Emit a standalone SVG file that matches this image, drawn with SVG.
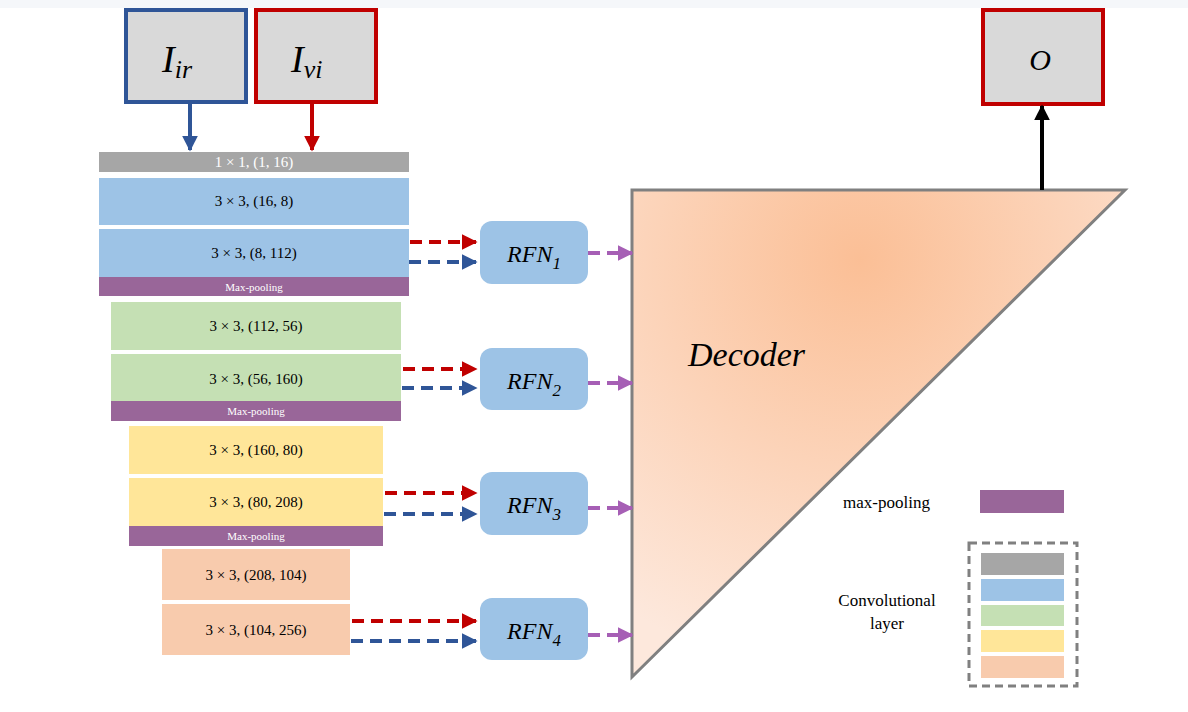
<svg xmlns="http://www.w3.org/2000/svg" width="1188" height="712" viewBox="0 0 1188 712">
<defs>
<style>
text{font-family:"Liberation Serif",serif;fill:#000}
.lt{font-size:15px;text-anchor:middle}
.mp{font-size:11px;text-anchor:middle;fill:#fff}
.m{font-style:italic}
.in{fill:#d9d9d9;stroke-width:4}
.rfn{fill:#9dc3e6}
.dr{stroke:#c00000;stroke-width:4;stroke-dasharray:12 7;fill:none}
.db{stroke:#2f5597;stroke-width:4;stroke-dasharray:12 7;fill:none}
.dp{stroke:#a65fb5;stroke-width:4;stroke-dasharray:12 7;fill:none}
</style>
<marker id="ar" viewBox="0 0 10 10" refX="9" refY="5" markerWidth="4" markerHeight="4" orient="auto"><path d="M0,0L10,5L0,10z" fill="#c00000"/></marker>
<marker id="ab" viewBox="0 0 10 10" refX="9" refY="5" markerWidth="4" markerHeight="4" orient="auto"><path d="M0,0L10,5L0,10z" fill="#2f5597"/></marker>
<marker id="ap" viewBox="0 0 10 10" refX="9" refY="5" markerWidth="4" markerHeight="4" orient="auto"><path d="M0,0L10,5L0,10z" fill="#a65fb5"/></marker>
<marker id="ak" viewBox="0 0 10 10" refX="9" refY="5" markerWidth="4" markerHeight="4" orient="auto"><path d="M0,0L10,5L0,10z" fill="#000"/></marker>
<radialGradient id="g" cx="860" cy="260" r="420" gradientUnits="userSpaceOnUse"><stop offset="0" stop-color="#fbbf96"/><stop offset="1" stop-color="#fde8dc"/></radialGradient>
</defs>
<rect width="1188" height="712" fill="#fff"/>
<rect width="1188" height="8" fill="#f5f7fa"/>
<g id="in_ir"><rect class="in" x="126" y="10" width="120" height="92" stroke="#2f5597"/><text x="162" y="72" font-size="38" class="m">I<tspan font-size="26" dy="6">ir</tspan></text></g>
<g id="in_vi"><rect class="in" x="256" y="10" width="120" height="92" stroke="#c00000"/><text x="291" y="72" font-size="38" class="m">I<tspan font-size="26" dy="6">vi</tspan></text></g>
<g id="out"><rect class="in" x="983" y="10" width="120" height="94" stroke="#c00000"/><text x="1040" y="70" font-size="30" class="m" text-anchor="middle">O</text></g>
<g id="encoder">
<rect x="99" y="152" width="310" height="20" fill="#a6a6a6"/><text class="lt" x="254" y="167" style="fill:#fff">1 × 1, (1, 16)</text>
<rect x="99" y="178" width="310" height="47" fill="#9dc3e6"/><text class="lt" x="254" y="206">3 × 3, (16, 8)</text>
<rect x="99" y="229" width="310" height="48" fill="#9dc3e6"/><text class="lt" x="254" y="258">3 × 3, (8, 112)</text>
<rect x="99" y="277" width="310" height="19" fill="#996699"/><text class="mp" x="254" y="291">Max-pooling</text>
<rect x="111" y="302" width="290" height="48" fill="#c5e0b4"/><text class="lt" x="256" y="331">3 × 3, (112, 56)</text>
<rect x="111" y="354" width="290" height="47" fill="#c5e0b4"/><text class="lt" x="256" y="384">3 × 3, (56, 160)</text>
<rect x="111" y="401" width="290" height="20" fill="#996699"/><text class="mp" x="256" y="415">Max-pooling</text>
<rect x="129" y="426" width="254" height="48" fill="#ffe699"/><text class="lt" x="256" y="455">3 × 3, (160, 80)</text>
<rect x="129" y="478" width="254" height="48" fill="#ffe699"/><text class="lt" x="256" y="507">3 × 3, (80, 208)</text>
<rect x="129" y="526" width="254" height="20" fill="#996699"/><text class="mp" x="256" y="540">Max-pooling</text>
<rect x="162" y="549" width="188" height="51" fill="#f8cbad"/><text class="lt" x="256" y="580">3 × 3, (208, 104)</text>
<rect x="162" y="604" width="188" height="51" fill="#f8cbad"/><text class="lt" x="256" y="635">3 × 3, (104, 256)</text>
</g>
<g id="rfn1"><rect class="rfn" x="480" y="221" width="108" height="63" rx="12"/><text x="534" y="262" font-size="24" class="m" text-anchor="middle">RFN<tspan font-size="17" dy="7">1</tspan></text></g>
<g id="rfn2"><rect class="rfn" x="480" y="348" width="108" height="62" rx="12"/><text x="534" y="389" font-size="24" class="m" text-anchor="middle">RFN<tspan font-size="17" dy="7">2</tspan></text></g>
<g id="rfn3"><rect class="rfn" x="480" y="472" width="108" height="63" rx="12"/><text x="534" y="513" font-size="24" class="m" text-anchor="middle">RFN<tspan font-size="17" dy="7">3</tspan></text></g>
<g id="rfn4"><rect class="rfn" x="480" y="598" width="108" height="62" rx="12"/><text x="534" y="639" font-size="24" class="m" text-anchor="middle">RFN<tspan font-size="17" dy="7">4</tspan></text></g>
<g id="decoder"><polygon points="632,190 1125,190 632,677" fill="url(#g)" stroke="#808080" stroke-width="3"/><text x="688" y="366" font-size="34" class="m">Decoder</text></g>
<g id="connectors">
<line x1="190" y1="102" x2="190" y2="150" stroke="#2f5597" stroke-width="4" marker-end="url(#ab)"/>
<line x1="312" y1="102" x2="312" y2="150" stroke="#c00000" stroke-width="4" marker-end="url(#ar)"/>
<line class="dr" x1="410" y1="242" x2="476" y2="242" marker-end="url(#ar)"/>
<line class="db" x1="409" y1="262" x2="476" y2="262" marker-end="url(#ab)"/>
<line class="dr" x1="403" y1="369" x2="476" y2="369" marker-end="url(#ar)"/>
<line class="db" x1="402" y1="388" x2="476" y2="388" marker-end="url(#ab)"/>
<line class="dr" x1="385" y1="493" x2="476" y2="493" marker-end="url(#ar)"/>
<line class="db" x1="384" y1="514" x2="476" y2="514" marker-end="url(#ab)"/>
<line class="dr" x1="352" y1="621" x2="476" y2="621" marker-end="url(#ar)"/>
<line class="db" x1="351" y1="641" x2="476" y2="641" marker-end="url(#ab)"/>
<line class="dp" x1="588" y1="253" x2="632" y2="253" marker-end="url(#ap)"/>
<line class="dp" x1="588" y1="383" x2="632" y2="383" marker-end="url(#ap)"/>
<line class="dp" x1="588" y1="508" x2="632" y2="508" marker-end="url(#ap)"/>
<line class="dp" x1="588" y1="635" x2="632" y2="635" marker-end="url(#ap)"/>
<line x1="1042" y1="190" x2="1042" y2="106" stroke="#000" stroke-width="4" marker-end="url(#ak)"/>
</g>
<g id="legend">
<text x="843" y="508" font-size="17">max-pooling</text>
<rect x="980" y="490" width="84" height="23" fill="#996699"/>
<rect x="969" y="543" width="108" height="143" fill="none" stroke="#808080" stroke-width="3" stroke-dasharray="8 5"/>
<rect x="981" y="553" width="83" height="22" fill="#a6a6a6"/>
<rect x="981" y="579" width="83" height="22" fill="#9dc3e6"/>
<rect x="981" y="605" width="83" height="21" fill="#c5e0b4"/>
<rect x="981" y="630" width="83" height="22" fill="#ffe699"/>
<rect x="981" y="656" width="83" height="22" fill="#f8cbad"/>
<text x="887" y="606" font-size="17" text-anchor="middle">Convolutional</text>
<text x="887" y="629" font-size="17" text-anchor="middle">layer</text>
</g>
</svg>
